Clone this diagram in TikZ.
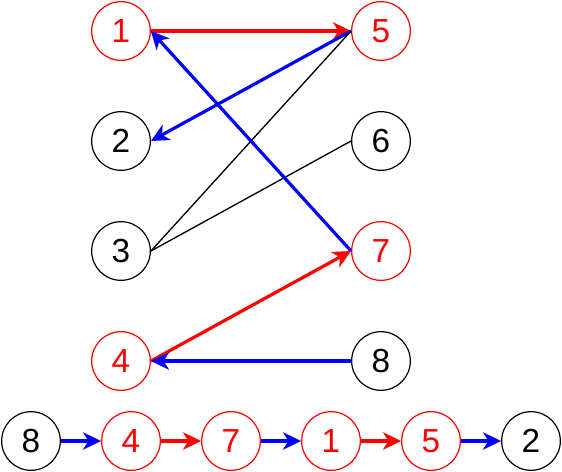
\documentclass[tikz,border=0pt]{standalone}
\usepackage{fontspec}
\setmainfont{Liberation Sans}
\usetikzlibrary{arrows.meta}
\begin{document}
\begin{tikzpicture}[x=0.75pt,y=-0.75pt,
  vtx/.style={circle,draw,line width=0.9pt,minimum size=44pt,inner sep=0pt,font=\fontsize{25}{25}\selectfont},
  hot/.style={vtx,draw=red,text=red},
  redarr/.style={draw=red,line width=2.4pt,-{Stealth[length=13.5pt,width=13pt,inset=4pt]}},
  bluearr/.style={draw=blue,line width=2.4pt,-{Stealth[length=13.5pt,width=13pt,inset=4pt]}},
  plain/.style={draw=black,line width=1pt}]
\useasboundingbox (0,0) rectangle (562,472);
\node[hot] (n1) at (121,31) {1};
\node[vtx] (n2) at (121,141) {2};
\node[vtx] (n3) at (121,251) {3};
\node[hot] (n4) at (121,361) {4};
\node[hot] (n5) at (381,31) {5};
\node[vtx] (n6) at (381,141) {6};
\node[hot] (n7) at (381,251) {7};
\node[vtx] (n8) at (381,361) {8};
\draw[redarr] (n1.east) -- (n5.west);
\draw[bluearr] (n5.west) -- (n2.east);
\draw[plain] (n5.west) -- (n3.east);
\draw[plain] (n6.west) -- (n3.east);
\draw[bluearr] (n7.west) -- (n1.east);
\draw[redarr] (n4.east) -- (n7.west);
\draw[bluearr] (n8.west) -- (n4.east);
\node[vtx] (b8) at (31,441) {8};
\node[hot] (b4) at (131,441) {4};
\node[hot] (b7) at (231,441) {7};
\node[hot] (b1) at (331,441) {1};
\node[hot] (b5) at (431,441) {5};
\node[vtx] (b2) at (531,441) {2};
\draw[bluearr] (b8) -- (b4);
\draw[redarr] (b4) -- (b7);
\draw[bluearr] (b7) -- (b1);
\draw[redarr] (b1) -- (b5);
\draw[bluearr] (b5) -- (b2);
\end{tikzpicture}
\end{document}
